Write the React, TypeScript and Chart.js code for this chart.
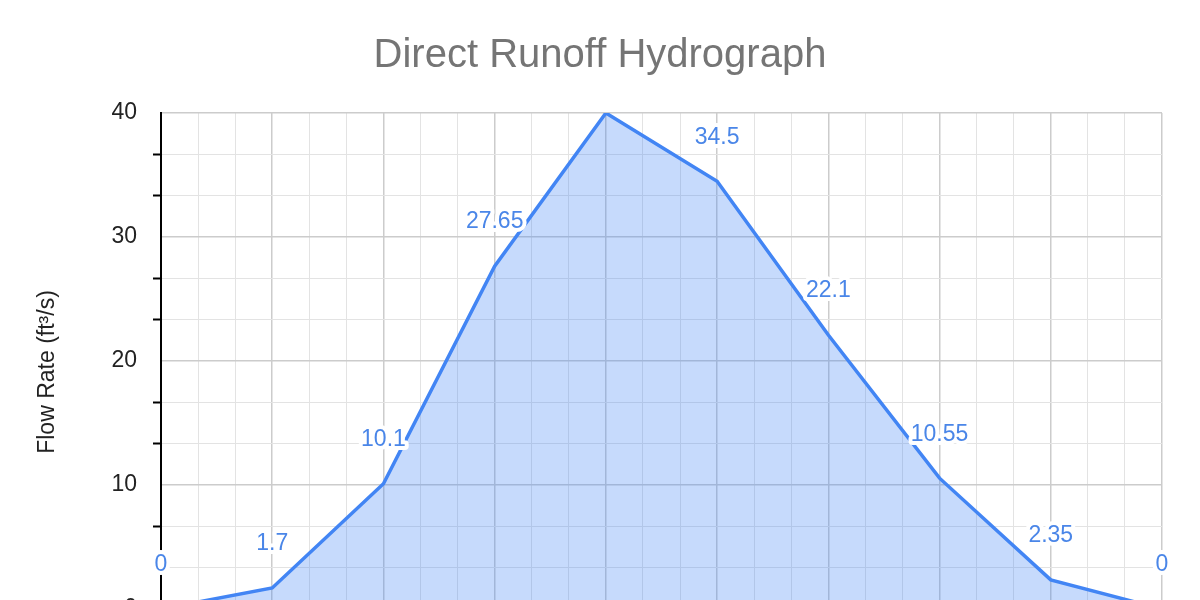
import { useEffect, useRef } from 'react';
import { Chart, registerables } from 'chart.js';

Chart.register(...registerables);

// hydrograph ordinates
const hours = [0, 1, 2, 3, 4, 5, 6, 7, 8, 9];
const flowRate = [0, 1.7, 10.1, 27.65, 40, 34.5, 22.1, 10.55, 2.35, 0];

// axis ticks (labelled majors, with minor lines in between)
const yMajorTicks = [0, 10, 20, 30, 40];
const xMajorTicks = hours;
const minorSteps = 3;

const FONT = '"Liberation Sans", Arial, sans-serif';
const BLUE = '#4285f4';
const LABEL_BLUE = '#4a86e8';
const Y_TITLE = 'Flow Rate (ft³/s)';

function withMinors(majors: number[]) {
  const out: number[] = [];
  for (let i = 0; i < majors.length; i++) {
    out.push(majors[i]);
    if (i < majors.length - 1) {
      const step = (majors[i + 1] - majors[i]) / minorSteps;
      for (let k = 1; k < minorSteps; k++) out.push(majors[i] + step * k);
    }
  }
  return out;
}

const isMajorOf = (majors: number[]) => (v: number) => majors.some((m) => Math.abs(m - v) < 1e-6);
const isYMajor = isMajorOf(yMajorTicks);
const isXMajor = isMajorOf(xMajorTicks);

// value labels above each point with a white halo, plus the y axis title
const pointLabels = {
  id: 'pointLabels',
  afterDatasetsDraw(chart: any) {
    const { ctx, chartArea } = chart;
    const meta = chart.getDatasetMeta(0);
    ctx.save();
    ctx.font = `23px ${FONT}`;
    ctx.textAlign = 'center';
    ctx.textBaseline = 'middle';
    ctx.lineJoin = 'round';
    ctx.lineWidth = 8;
    ctx.strokeStyle = '#ffffff';
    ctx.fillStyle = LABEL_BLUE;
    meta.data.forEach((pt: any, i: number) => {
      const y = pt.y - 44;
      if (y - 11 < chartArea.top) return;
      const text = String(flowRate[i]);
      ctx.strokeText(text, pt.x, y);
      ctx.fillText(text, pt.x, y);
    });
    ctx.restore();
  },
  afterDraw(chart: any) {
    const { ctx, chartArea } = chart;
    ctx.save();
    ctx.font = `23px ${FONT}`;
    ctx.fillStyle = '#222';
    ctx.textAlign = 'center';
    ctx.textBaseline = 'middle';
    ctx.translate(48, (chartArea.top + chartArea.bottom) / 2 + 11);
    ctx.rotate(-Math.PI / 2);
    ctx.fillText(Y_TITLE, 0, 0);
    ctx.restore();
  },
};

export default function App() {
  const canvasRef = useRef<HTMLCanvasElement>(null);
  const chartRef = useRef<Chart | null>(null);

  useEffect(() => {
    document.body.style.margin = '0';
    if (!canvasRef.current) return;
    if (chartRef.current) chartRef.current.destroy();

    const ctx = canvasRef.current.getContext('2d')!;

    chartRef.current = new Chart(ctx, {
      type: 'line',
      data: {
        datasets: [
          {
            label: 'Flow Rate',
            data: hours.map((h, i) => ({ x: h, y: flowRate[i] })),
            borderColor: BLUE,
            borderWidth: 3.5,
            backgroundColor: 'rgba(66,133,244,0.3)',
            fill: 'origin',
            pointRadius: 0,
            tension: 0,
          },
        ],
      },
      options: {
        responsive: true,
        maintainAspectRatio: false,
        animation: false,
        layout: { padding: 0 },
        plugins: {
          legend: { display: false },
          tooltip: { enabled: false },
          title: {
            display: true,
            text: 'Direct Runoff Hydrograph',
            color: '#757575',
            font: { family: FONT, size: 40, weight: 'normal' },
            padding: { top: 32, bottom: 33 },
          },
        },
        scales: {
          x: {
            type: 'linear',
            min: 0,
            max: 9,
            afterBuildTicks: (scale: any) => {
              scale.ticks = withMinors(xMajorTicks).map((v) => ({ value: v }));
            },
            afterFit: (scale: any) => {
              scale.height = 66;
              scale.paddingRight = 38;
            },
            grid: {
              color: (c: any) => (isXMajor(c.tick.value) ? '#cccccc' : '#e3e3e3'),
              lineWidth: (c: any) => (isXMajor(c.tick.value) ? 1.5 : 1),
              tickLength: 8,
              tickWidth: 2,
              tickColor: (c: any) => (isXMajor(c.tick.value) ? 'rgba(0,0,0,0)' : '#000'),
            },
            border: { display: true, color: '#000', width: 2 },
            ticks: {
              autoSkip: false,
              maxRotation: 0,
              padding: 16,
              color: '#222',
              font: { family: FONT, size: 23 },
              callback: (v: any) => (isXMajor(Number(v)) ? String(v) : ''),
            },
          },
          y: {
            type: 'linear',
            min: 0,
            max: 40,
            afterBuildTicks: (scale: any) => {
              scale.ticks = withMinors(yMajorTicks).map((v) => ({ value: v }));
            },
            afterFit: (scale: any) => {
              scale.width = 161;
            },
            grid: {
              color: (c: any) => (isYMajor(c.tick.value) ? '#cccccc' : '#e3e3e3'),
              lineWidth: (c: any) => (isYMajor(c.tick.value) ? 1.5 : 1),
              tickLength: 8,
              tickWidth: 2,
              tickColor: (c: any) => (isYMajor(c.tick.value) ? 'rgba(0,0,0,0)' : '#000'),
            },
            border: { display: true, color: '#000', width: 2 },
            ticks: {
              autoSkip: false,
              padding: 16,
              color: '#222',
              font: { family: FONT, size: 23 },
              callback: (v: any) => (isYMajor(Number(v)) ? String(Math.round(Number(v))) : ''),
            },
          },
        },
      },
      plugins: [pointLabels],
    });

    return () => {
      chartRef.current?.destroy();
      chartRef.current = null;
    };
  }, []);

  return (
    <div style={{ width: 1200, height: 600, overflow: 'hidden', background: '#fff' }}>
      <div style={{ position: 'relative', width: 1200, height: 675 }}>
        <canvas ref={canvasRef} />
      </div>
    </div>
  );
}
